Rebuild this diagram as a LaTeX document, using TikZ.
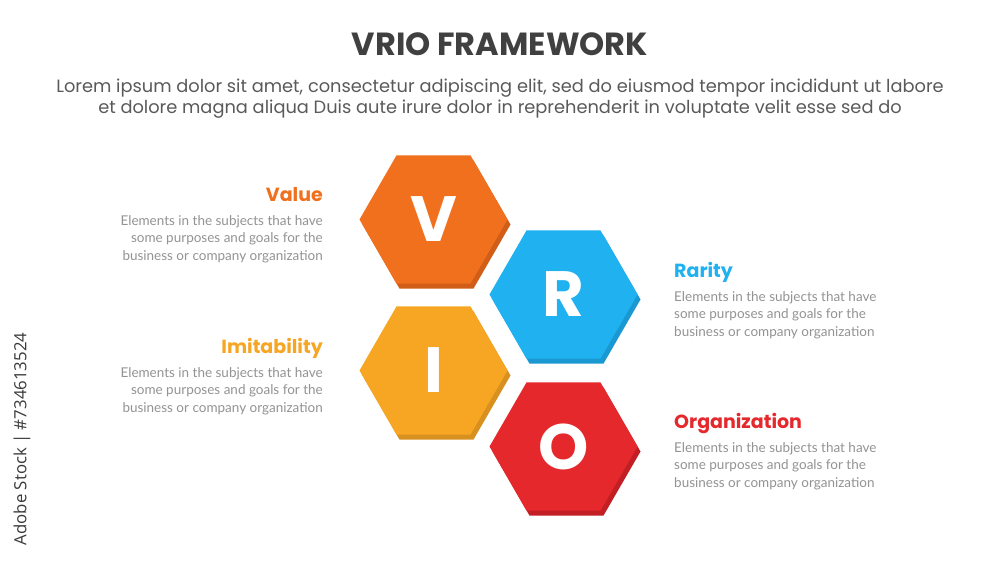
\documentclass[tikz,border=0pt]{standalone}
\usepackage{fontspec}
\setmainfont{Lato}
\newfontfamily\popfont{Poppins}
\newfontfamily\osfont{Open Sans}
\usetikzlibrary{positioning, shapes.geometric}

\definecolor{valcol}{HTML}{F0701E}
\definecolor{valdark}{HTML}{D05E18}
\definecolor{rarcol}{HTML}{1FB1F0}
\definecolor{rardark}{HTML}{1A98D2}
\definecolor{imicol}{HTML}{F6A623}
\definecolor{imidark}{HTML}{D8901E}
\definecolor{orgcol}{HTML}{E5282C}
\definecolor{orgdark}{HTML}{C21F25}
\definecolor{titlecol}{HTML}{404040}
\definecolor{loremcol}{HTML}{5A5A5A}
\definecolor{desccol}{HTML}{939393}
\definecolor{stockcol}{HTML}{3A3A3A}

\tikzset{
  hexa/.style={regular polygon, regular polygon sides=6, minimum size=148pt,
               inner sep=0pt, draw=none},
  letter/.style={hexa, text=white, font=\popfont\bfseries\fontsize{64}{64}\selectfont},
  heading/.style={font=\popfont\bfseries\fontsize{19}{20}\selectfont, inner sep=0pt},
  desc/.style={font=\fontsize{13.5}{17.5}\selectfont, text=desccol, inner sep=0pt}
}

\begin{document}
\begin{tikzpicture}[x=1pt, y=-1pt]
    \fill[white] (0,0) rectangle (1000,563);
    \useasboundingbox (0,0) rectangle (1000,563);

    \node[font=\popfont\bfseries\fontsize{32}{32}\selectfont, text=titlecol] (title) at (500,44) {VRIO FRAMEWORK};
    \node[below=20pt of title, align=center, text=loremcol, inner sep=0pt,
          font=\popfont\fontsize{17.8}{21}\selectfont] (lorem)
    {Lorem ipsum dolor sit amet, consectetur adipiscing elit, sed do eiusmod tempor incididunt ut labore\\
     et dolore magna aliqua Duis aute irure dolor in reprehenderit in voluptate velit esse sed do};

    \node[hexa, fill=valdark] (vs) at (436.5,224.5) {};
    \node[letter, fill=valcol] (v) at (433.5,219.5) {V};
    \node[hexa, fill=rardark] (rs) at (566.5,299.5) {};
    \node[letter, fill=rarcol] (r) at (563.5,294.5) {R};
    \node[hexa, fill=imidark] (is) at (436.5,375.5) {};
    \node[letter, fill=imicol] (i) at (433.5,370.5) {I};
    \node[hexa, fill=orgdark] (os) at (566.5,451.5) {};
    \node[letter, fill=orgcol] (o) at (563.5,446.5) {O};

    \node[heading, text=valcol, anchor=base east] (vh) at (323,201) {Value};
    \node[desc, align=right, below=14pt of vh.base east, anchor=north east] (vd)
    {Elements in the subjects that have\\ some purposes and goals for the\\ business or company organization};

    \node[heading, text=imicol, anchor=base east] (ih) at (323,353) {Imitability};
    \node[desc, align=right, below=14pt of ih.base east, anchor=north east] (id)
    {Elements in the subjects that have\\ some purposes and goals for the\\ business or company organization};

    \node[heading, text=rarcol, anchor=base west] (rh) at (674,277) {Rarity};
    \node[desc, align=left, below=14pt of rh.base west, anchor=north west] (rd)
    {Elements in the subjects that have\\ some purposes and goals for the\\ business or company organization};

    \node[heading, text=orgcol, anchor=base west] (oh) at (674,428) {Organization};
    \node[desc, align=left, below=14pt of oh.base west, anchor=north west] (od)
    {Elements in the subjects that have\\ some purposes and goals for the\\ business or company organization};

    \node[rotate=90, text=stockcol, font=\osfont\fontsize{16.8}{17}\selectfont] (stock) at (22,439)
    {Adobe Stock | \#734613524};
\end{tikzpicture}
\end{document}
